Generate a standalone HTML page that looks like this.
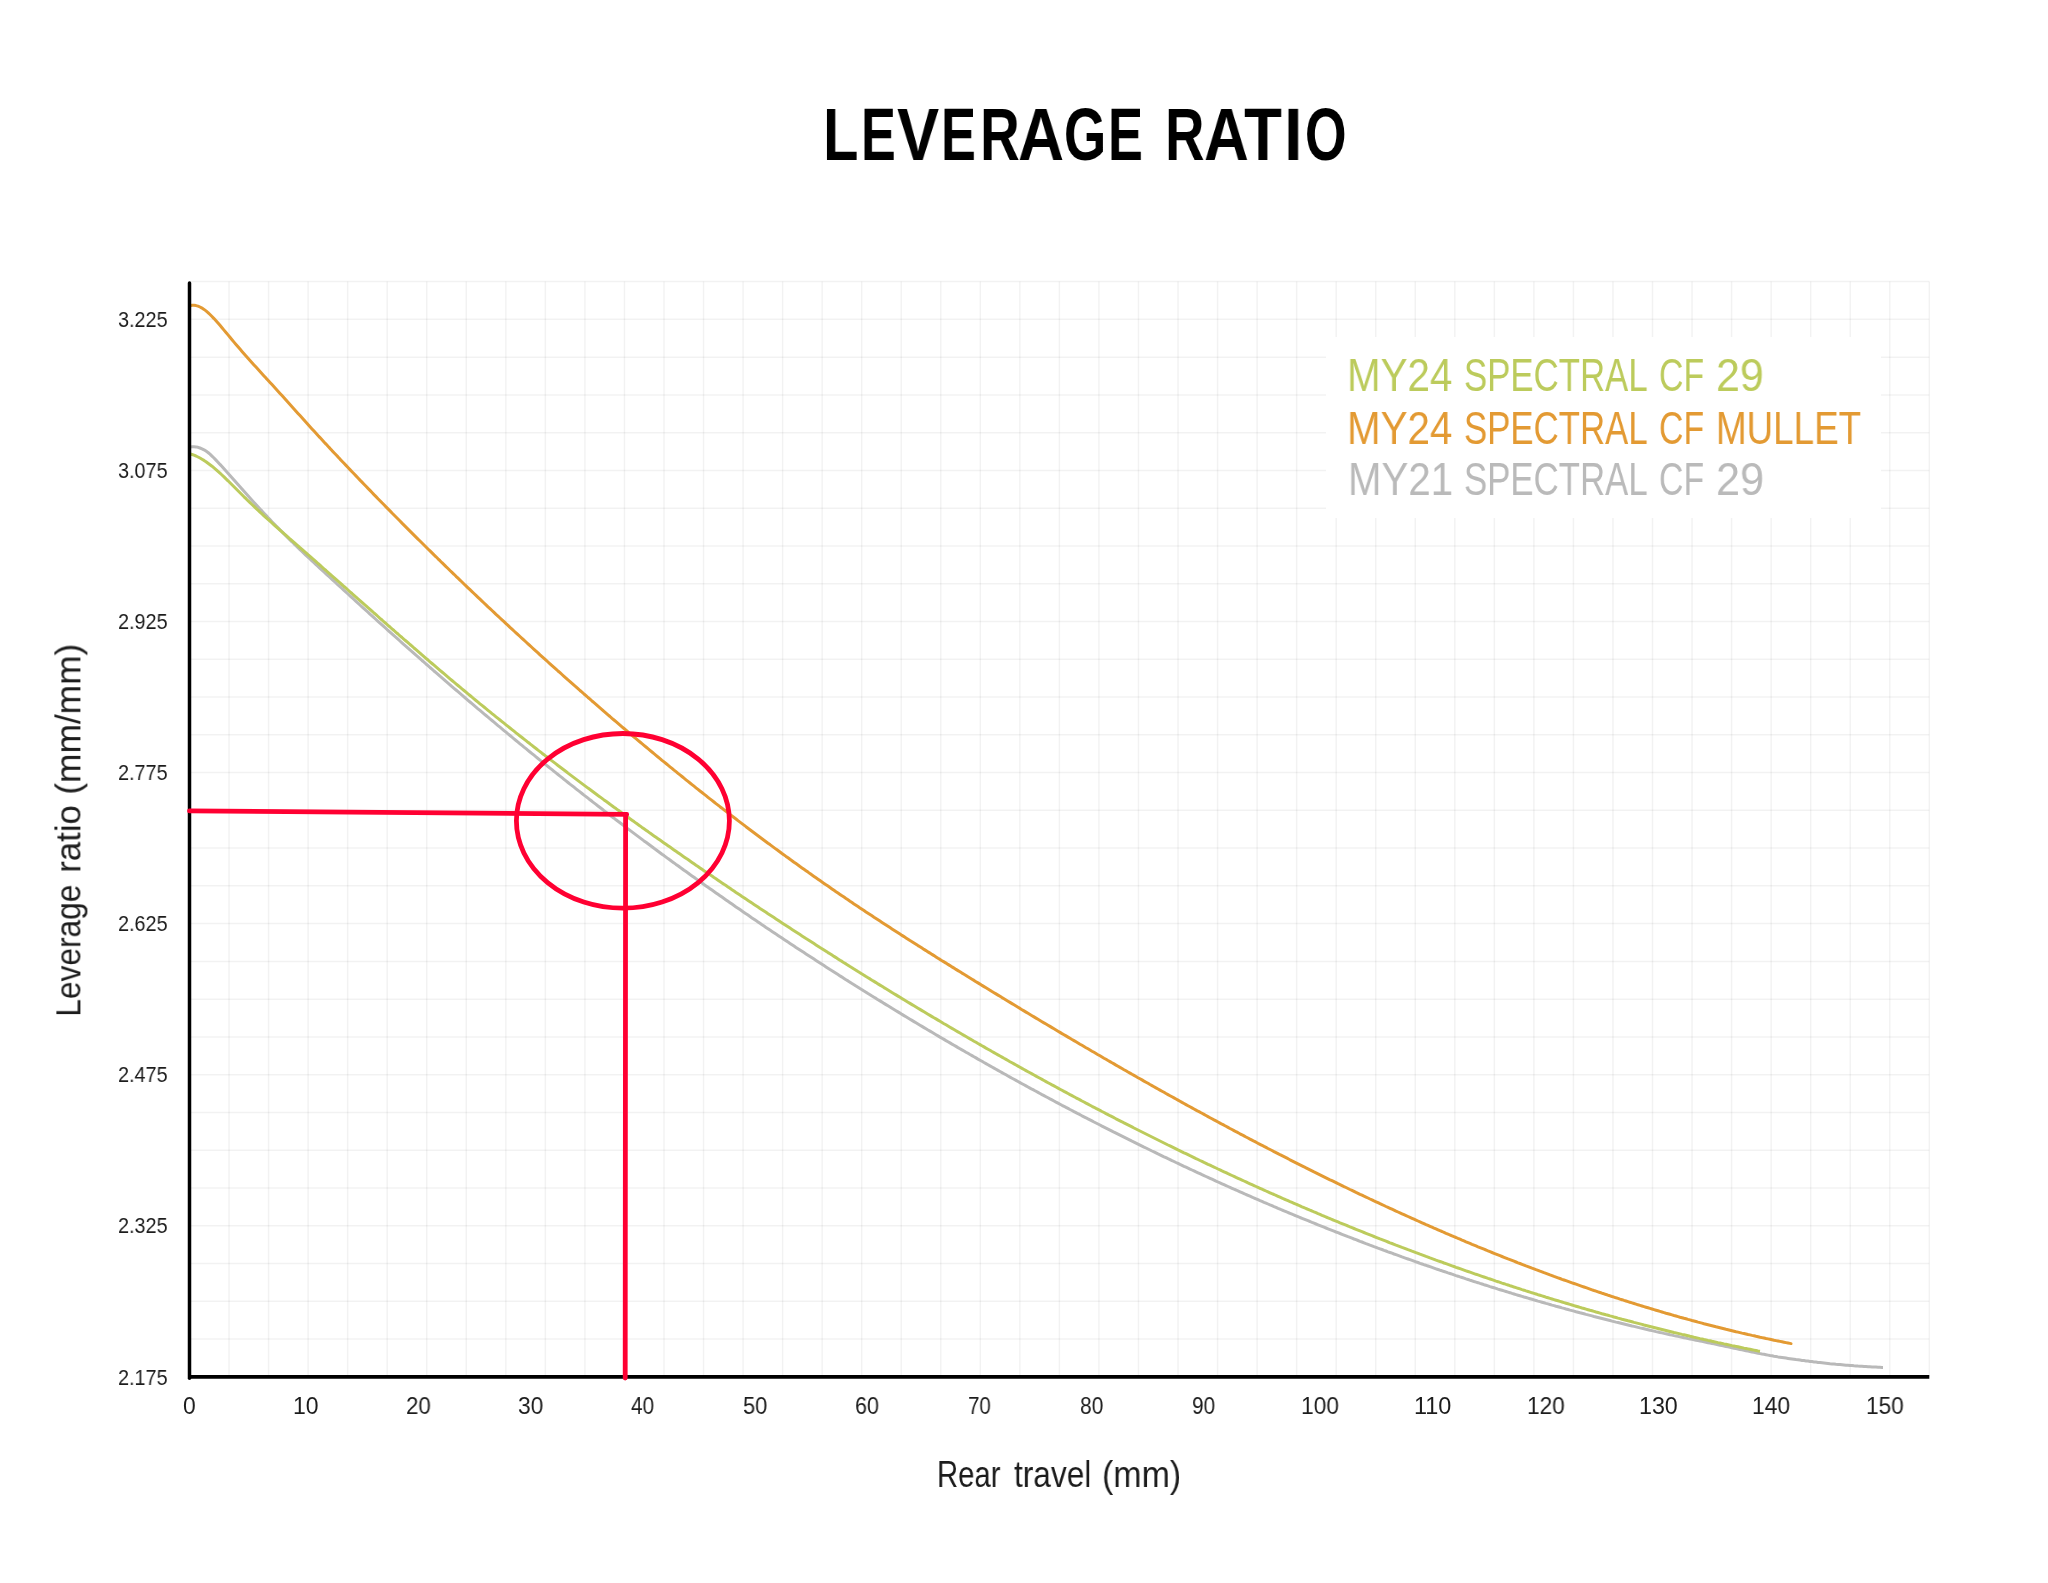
<!DOCTYPE html>
<html><head><meta charset="utf-8"><style>
html,body{margin:0;padding:0;background:#fff;width:2048px;height:1583px;overflow:hidden}
.t{position:absolute;white-space:nowrap;line-height:1;font-family:'Liberation Sans', sans-serif;will-change:transform}
</style></head><body>
<svg width="2048" height="1583" style="position:absolute;left:0;top:0">
<g stroke="#000" stroke-opacity="0.05" stroke-width="1.5" fill="none"><line x1="229.04" y1="281.60" x2="229.04" y2="1376.80"/><line x1="268.58" y1="281.60" x2="268.58" y2="1376.80"/><line x1="308.12" y1="281.60" x2="308.12" y2="1376.80"/><line x1="347.66" y1="281.60" x2="347.66" y2="1376.80"/><line x1="387.20" y1="281.60" x2="387.20" y2="1376.80"/><line x1="426.75" y1="281.60" x2="426.75" y2="1376.80"/><line x1="466.29" y1="281.60" x2="466.29" y2="1376.80"/><line x1="505.83" y1="281.60" x2="505.83" y2="1376.80"/><line x1="545.37" y1="281.60" x2="545.37" y2="1376.80"/><line x1="584.91" y1="281.60" x2="584.91" y2="1376.80"/><line x1="624.45" y1="281.60" x2="624.45" y2="1376.80"/><line x1="663.99" y1="281.60" x2="663.99" y2="1376.80"/><line x1="703.53" y1="281.60" x2="703.53" y2="1376.80"/><line x1="743.07" y1="281.60" x2="743.07" y2="1376.80"/><line x1="782.61" y1="281.60" x2="782.61" y2="1376.80"/><line x1="822.15" y1="281.60" x2="822.15" y2="1376.80"/><line x1="861.70" y1="281.60" x2="861.70" y2="1376.80"/><line x1="901.24" y1="281.60" x2="901.24" y2="1376.80"/><line x1="940.78" y1="281.60" x2="940.78" y2="1376.80"/><line x1="980.32" y1="281.60" x2="980.32" y2="1376.80"/><line x1="1019.86" y1="281.60" x2="1019.86" y2="1376.80"/><line x1="1059.40" y1="281.60" x2="1059.40" y2="1376.80"/><line x1="1098.94" y1="281.60" x2="1098.94" y2="1376.80"/><line x1="1138.48" y1="281.60" x2="1138.48" y2="1376.80"/><line x1="1178.02" y1="281.60" x2="1178.02" y2="1376.80"/><line x1="1217.56" y1="281.60" x2="1217.56" y2="1376.80"/><line x1="1257.10" y1="281.60" x2="1257.10" y2="1376.80"/><line x1="1296.65" y1="281.60" x2="1296.65" y2="1376.80"/><line x1="1336.19" y1="281.60" x2="1336.19" y2="1376.80"/><line x1="1375.73" y1="281.60" x2="1375.73" y2="1376.80"/><line x1="1415.27" y1="281.60" x2="1415.27" y2="1376.80"/><line x1="1454.81" y1="281.60" x2="1454.81" y2="1376.80"/><line x1="1494.35" y1="281.60" x2="1494.35" y2="1376.80"/><line x1="1533.89" y1="281.60" x2="1533.89" y2="1376.80"/><line x1="1573.43" y1="281.60" x2="1573.43" y2="1376.80"/><line x1="1612.97" y1="281.60" x2="1612.97" y2="1376.80"/><line x1="1652.51" y1="281.60" x2="1652.51" y2="1376.80"/><line x1="1692.05" y1="281.60" x2="1692.05" y2="1376.80"/><line x1="1731.60" y1="281.60" x2="1731.60" y2="1376.80"/><line x1="1771.14" y1="281.60" x2="1771.14" y2="1376.80"/><line x1="1810.68" y1="281.60" x2="1810.68" y2="1376.80"/><line x1="1850.22" y1="281.60" x2="1850.22" y2="1376.80"/><line x1="1889.76" y1="281.60" x2="1889.76" y2="1376.80"/><line x1="1929.30" y1="281.60" x2="1929.30" y2="1376.80"/><line x1="189.50" y1="281.60" x2="1929.30" y2="281.60"/><line x1="189.50" y1="319.37" x2="1929.30" y2="319.37"/><line x1="189.50" y1="357.13" x2="1929.30" y2="357.13"/><line x1="189.50" y1="394.90" x2="1929.30" y2="394.90"/><line x1="189.50" y1="432.66" x2="1929.30" y2="432.66"/><line x1="189.50" y1="470.43" x2="1929.30" y2="470.43"/><line x1="189.50" y1="508.19" x2="1929.30" y2="508.19"/><line x1="189.50" y1="545.96" x2="1929.30" y2="545.96"/><line x1="189.50" y1="583.72" x2="1929.30" y2="583.72"/><line x1="189.50" y1="621.49" x2="1929.30" y2="621.49"/><line x1="189.50" y1="659.26" x2="1929.30" y2="659.26"/><line x1="189.50" y1="697.02" x2="1929.30" y2="697.02"/><line x1="189.50" y1="734.79" x2="1929.30" y2="734.79"/><line x1="189.50" y1="772.55" x2="1929.30" y2="772.55"/><line x1="189.50" y1="810.32" x2="1929.30" y2="810.32"/><line x1="189.50" y1="848.08" x2="1929.30" y2="848.08"/><line x1="189.50" y1="885.85" x2="1929.30" y2="885.85"/><line x1="189.50" y1="923.61" x2="1929.30" y2="923.61"/><line x1="189.50" y1="961.38" x2="1929.30" y2="961.38"/><line x1="189.50" y1="999.14" x2="1929.30" y2="999.14"/><line x1="189.50" y1="1036.91" x2="1929.30" y2="1036.91"/><line x1="189.50" y1="1074.68" x2="1929.30" y2="1074.68"/><line x1="189.50" y1="1112.44" x2="1929.30" y2="1112.44"/><line x1="189.50" y1="1150.21" x2="1929.30" y2="1150.21"/><line x1="189.50" y1="1187.97" x2="1929.30" y2="1187.97"/><line x1="189.50" y1="1225.74" x2="1929.30" y2="1225.74"/><line x1="189.50" y1="1263.50" x2="1929.30" y2="1263.50"/><line x1="189.50" y1="1301.27" x2="1929.30" y2="1301.27"/><line x1="189.50" y1="1339.03" x2="1929.30" y2="1339.03"/></g>
</svg>
<div class="t" style="left:822.69px;top:98.30px;transform-origin:0 0;transform:scaleX(0.7816);font-size:74px;color:#000;font-weight:bold;">L</div><div class="t" style="left:860.68px;top:98.30px;transform-origin:0 0;transform:scaleX(0.7048);font-size:74px;color:#000;font-weight:bold;">E</div><div class="t" style="left:896.95px;top:98.30px;transform-origin:0 0;transform:scaleX(0.8521);font-size:74px;color:#000;font-weight:bold;">V</div><div class="t" style="left:941.06px;top:98.30px;transform-origin:0 0;transform:scaleX(0.7071);font-size:74px;color:#000;font-weight:bold;">E</div><div class="t" style="left:979.79px;top:98.30px;transform-origin:0 0;transform:scaleX(0.7426);font-size:74px;color:#000;font-weight:bold;">R</div><div class="t" style="left:1017.98px;top:98.30px;transform-origin:0 0;transform:scaleX(0.8612);font-size:74px;color:#000;font-weight:bold;">A</div><div class="t" style="left:1063.70px;top:98.30px;transform-origin:0 0;transform:scaleX(0.7320);font-size:74px;color:#000;font-weight:bold;">G</div><div class="t" style="left:1108.16px;top:98.30px;transform-origin:0 0;transform:scaleX(0.7071);font-size:74px;color:#000;font-weight:bold;">E</div><div class="t" style="left:1165.31px;top:98.30px;transform-origin:0 0;transform:scaleX(0.7383);font-size:74px;color:#000;font-weight:bold;">R</div><div class="t" style="left:1204.23px;top:98.30px;transform-origin:0 0;transform:scaleX(0.8367);font-size:74px;color:#000;font-weight:bold;">A</div><div class="t" style="left:1243.96px;top:98.30px;transform-origin:0 0;transform:scaleX(0.8364);font-size:74px;color:#000;font-weight:bold;">T</div><div class="t" style="left:1283.50px;top:98.30px;transform-origin:0 0;transform:scaleX(0.9000);font-size:74px;color:#000;font-weight:bold;">I</div><div class="t" style="left:1304.94px;top:98.30px;transform-origin:0 0;transform:scaleX(0.7212);font-size:74px;color:#000;font-weight:bold;">O</div><div class="t" style="left:118.20px;top:309.07px;transform-origin:0 0;transform:scaleX(0.9019);font-size:22px;color:#1c1c1c;font-weight:normal;">3.225</div><div class="t" style="left:118.20px;top:460.13px;transform-origin:0 0;transform:scaleX(0.9019);font-size:22px;color:#1c1c1c;font-weight:normal;">3.075</div><div class="t" style="left:118.20px;top:611.19px;transform-origin:0 0;transform:scaleX(0.9019);font-size:22px;color:#1c1c1c;font-weight:normal;">2.925</div><div class="t" style="left:118.20px;top:762.25px;transform-origin:0 0;transform:scaleX(0.9019);font-size:22px;color:#1c1c1c;font-weight:normal;">2.775</div><div class="t" style="left:118.20px;top:913.31px;transform-origin:0 0;transform:scaleX(0.9019);font-size:22px;color:#1c1c1c;font-weight:normal;">2.625</div><div class="t" style="left:118.20px;top:1064.38px;transform-origin:0 0;transform:scaleX(0.9019);font-size:22px;color:#1c1c1c;font-weight:normal;">2.475</div><div class="t" style="left:118.20px;top:1215.44px;transform-origin:0 0;transform:scaleX(0.9019);font-size:22px;color:#1c1c1c;font-weight:normal;">2.325</div><div class="t" style="left:118.20px;top:1366.50px;transform-origin:0 0;transform:scaleX(0.9019);font-size:22px;color:#1c1c1c;font-weight:normal;">2.175</div><div class="t" style="left:183.21px;top:1395.30px;transform-origin:0 0;transform:scaleX(0.9909);font-size:23px;color:#1c1c1c;font-weight:normal;">0</div><div class="t" style="left:293.00px;top:1395.30px;transform-origin:0 0;transform:scaleX(1.0000);font-size:23px;color:#1c1c1c;font-weight:normal;">10</div><div class="t" style="left:405.83px;top:1395.30px;transform-origin:0 0;transform:scaleX(0.9708);font-size:23px;color:#1c1c1c;font-weight:normal;">20</div><div class="t" style="left:517.91px;top:1395.30px;transform-origin:0 0;transform:scaleX(0.9917);font-size:23px;color:#1c1c1c;font-weight:normal;">30</div><div class="t" style="left:631.40px;top:1395.30px;transform-origin:0 0;transform:scaleX(0.9040);font-size:23px;color:#1c1c1c;font-weight:normal;">40</div><div class="t" style="left:742.85px;top:1395.30px;transform-origin:0 0;transform:scaleX(0.9500);font-size:23px;color:#1c1c1c;font-weight:normal;">50</div><div class="t" style="left:854.96px;top:1395.30px;transform-origin:0 0;transform:scaleX(0.9375);font-size:23px;color:#1c1c1c;font-weight:normal;">60</div><div class="t" style="left:968.11px;top:1395.30px;transform-origin:0 0;transform:scaleX(0.8917);font-size:23px;color:#1c1c1c;font-weight:normal;">70</div><div class="t" style="left:1079.58px;top:1395.30px;transform-origin:0 0;transform:scaleX(0.9167);font-size:23px;color:#1c1c1c;font-weight:normal;">80</div><div class="t" style="left:1192.20px;top:1395.30px;transform-origin:0 0;transform:scaleX(0.9042);font-size:23px;color:#1c1c1c;font-weight:normal;">90</div><div class="t" style="left:1301.12px;top:1395.30px;transform-origin:0 0;transform:scaleX(0.9914);font-size:23px;color:#1c1c1c;font-weight:normal;">100</div><div class="t" style="left:1413.96px;top:1395.30px;transform-origin:0 0;transform:scaleX(1.0206);font-size:23px;color:#1c1c1c;font-weight:normal;">110</div><div class="t" style="left:1526.53px;top:1395.30px;transform-origin:0 0;transform:scaleX(0.9857);font-size:23px;color:#1c1c1c;font-weight:normal;">120</div><div class="t" style="left:1639.38px;top:1395.30px;transform-origin:0 0;transform:scaleX(1.0114);font-size:23px;color:#1c1c1c;font-weight:normal;">130</div><div class="t" style="left:1752.31px;top:1395.30px;transform-origin:0 0;transform:scaleX(0.9943);font-size:23px;color:#1c1c1c;font-weight:normal;">140</div><div class="t" style="left:1865.53px;top:1395.30px;transform-origin:0 0;transform:scaleX(0.9857);font-size:23px;color:#1c1c1c;font-weight:normal;">150</div><div class="t" style="left:937.43px;top:1456.30px;transform-origin:0 0;transform:scaleX(0.7909);font-size:37px;color:#1c1c1c;font-weight:normal;">Rear</div><div class="t" style="left:1014.30px;top:1456.30px;transform-origin:0 0;transform:scaleX(0.8545);font-size:37px;color:#1c1c1c;font-weight:normal;">travel</div><div class="t" style="left:1102.07px;top:1456.30px;transform-origin:0 0;transform:scaleX(0.9171);font-size:37px;color:#1c1c1c;font-weight:normal;">(mm)</div><div style="position:absolute;left:0;top:0;transform-origin:0 0;transform:translate(80.4px,1013.7px) rotate(-90deg);"><div class="t" style="left:-2.68px;top:-29.00px;transform-origin:0 0;transform:scaleX(0.8924);font-size:35.5px;color:#1c1c1c;font-weight:normal;">Leverage</div><div class="t" style="left:141.14px;top:-29.00px;transform-origin:0 0;transform:scaleX(0.9788);font-size:35.5px;color:#1c1c1c;font-weight:normal;">ratio</div><div class="t" style="left:219.31px;top:-29.00px;transform-origin:0 0;transform:scaleX(0.9946);font-size:35.5px;color:#1c1c1c;font-weight:normal;">(mm/mm)</div></div>
<div style="position:absolute;left:1326px;top:336.5px;width:555px;height:181px;background:#fff"></div>
<svg width="2048" height="1583" style="position:absolute;left:0;top:0">
<path d="M190.0,447.0 L192.0,446.8 L194.0,446.8 L196.0,446.9 L198.0,447.3 L200.0,448.0 L202.0,448.8 L204.0,449.8 L206.0,451.1 L208.0,452.5 L210.0,454.2 L212.0,456.1 L214.0,458.0 L216.0,460.1 L218.0,462.2 L220.0,464.4 L222.0,466.5 L224.0,468.8 L226.0,471.0 L228.0,473.2 L230.0,475.5 L232.0,477.7 L234.0,480.0 L236.0,482.3 L238.0,484.6 L240.0,486.8 L242.0,489.1 L244.0,491.3 L246.0,493.5 L248.0,495.8 L250.0,498.0 L252.0,500.2 L254.0,502.4 L256.0,504.6 L258.0,506.7 L260.0,508.9 L262.0,511.1 L264.0,513.2 L266.0,515.3 L268.0,517.5 L270.0,519.6 L272.0,521.7 L274.0,523.7 L276.0,525.8 L278.0,527.8 L280.0,529.9 L282.0,531.9 L284.0,533.9 L286.0,535.9 L288.0,537.9 L290.0,539.9 L292.0,541.8 L294.0,543.8 L296.0,545.7 L298.0,547.7 L300.0,549.6 L302.0,551.5 L304.0,553.4 L306.0,555.3 L308.0,557.1 L310.0,559.0 L312.0,560.9 L314.0,562.7 L316.0,564.6 L318.0,566.4 L320.0,568.3 L322.0,570.1 L324.0,572.0 L326.0,573.8 L328.0,575.7 L330.0,577.5 L332.0,579.3 L334.0,581.2 L336.0,583.0 L338.0,584.9 L340.0,586.7 L342.0,588.5 L344.0,590.4 L346.0,592.2 L348.0,594.0 L350.0,595.8 L352.0,597.7 L354.0,599.5 L356.0,601.3 L358.0,603.1 L360.0,605.0 L362.0,606.8 L364.0,608.6 L366.0,610.4 L368.0,612.2 L370.0,614.1 L372.0,615.9 L374.0,617.7 L376.0,619.5 L378.0,621.3 L380.0,623.1 L382.0,624.9 L384.0,626.7 L386.0,628.5 L388.0,630.3 L390.0,632.1 L392.0,633.9 L394.0,635.7 L396.0,637.4 L398.0,639.2 L400.0,641.0 L402.0,642.8 L404.0,644.6 L406.0,646.3 L408.0,648.1 L410.0,649.9 L412.0,651.6 L414.0,653.4 L416.0,655.2 L418.0,656.9 L420.0,658.7 L422.0,660.5 L424.0,662.2 L426.0,664.0 L428.0,665.7 L430.0,667.5 L432.0,669.2 L434.0,671.0 L436.0,672.7 L438.0,674.4 L440.0,676.2 L442.0,677.9 L444.0,679.6 L446.0,681.4 L448.0,683.1 L450.0,684.8 L452.0,686.6 L454.0,688.3 L456.0,690.0 L458.0,691.7 L460.0,693.4 L462.0,695.1 L464.0,696.8 L466.0,698.6 L468.0,700.3 L470.0,702.0 L472.0,703.7 L474.0,705.4 L476.0,707.1 L478.0,708.8 L480.0,710.4 L482.0,712.1 L484.0,713.8 L486.0,715.5 L488.0,717.2 L490.0,718.9 L492.0,720.5 L494.0,722.2 L496.0,723.9 L498.0,725.6 L500.0,727.2 L502.0,728.9 L504.0,730.6 L506.0,732.2 L508.0,733.9 L510.0,735.5 L512.0,737.2 L514.0,738.8 L516.0,740.5 L518.0,742.1 L520.0,743.8 L522.0,745.4 L524.0,747.1 L526.0,748.7 L528.0,750.3 L530.0,752.0 L532.0,753.6 L534.0,755.2 L536.0,756.8 L538.0,758.5 L540.0,760.1 L542.0,761.7 L544.0,763.3 L546.0,764.9 L548.0,766.5 L550.0,768.1 L552.0,769.7 L554.0,771.3 L556.0,772.9 L558.0,774.5 L560.0,776.1 L562.0,777.7 L564.0,779.3 L566.0,780.9 L568.0,782.5 L570.0,784.1 L572.0,785.6 L574.0,787.2 L576.0,788.8 L578.0,790.4 L580.0,791.9 L582.0,793.5 L584.0,795.1 L586.0,796.6 L588.0,798.2 L590.0,799.8 L592.0,801.3 L594.0,802.9 L596.0,804.4 L598.0,806.0 L600.0,807.5 L602.0,809.0 L604.0,810.6 L606.0,812.1 L608.0,813.7 L610.0,815.2 L612.0,816.7 L614.0,818.2 L616.0,819.8 L618.0,821.3 L620.0,822.8 L622.0,824.3 L624.0,825.8 L626.0,827.4 L628.0,828.9 L630.0,830.4 L632.0,831.9 L634.0,833.4 L636.0,834.9 L638.0,836.4 L640.0,837.9 L642.0,839.4 L644.0,840.9 L646.0,842.3 L648.0,843.8 L650.0,845.3 L652.0,846.8 L654.0,848.3 L656.0,849.7 L658.0,851.2 L660.0,852.7 L662.0,854.2 L664.0,855.6 L666.0,857.1 L668.0,858.6 L670.0,860.0 L672.0,861.5 L674.0,862.9 L676.0,864.4 L678.0,865.8 L680.0,867.3 L682.0,868.7 L684.0,870.2 L686.0,871.6 L688.0,873.0 L690.0,874.5 L692.0,875.9 L694.0,877.3 L696.0,878.8 L698.0,880.2 L700.0,881.6 L702.0,883.0 L704.0,884.5 L706.0,885.9 L708.0,887.3 L710.0,888.7 L712.0,890.1 L714.0,891.5 L716.0,892.9 L718.0,894.3 L720.0,895.7 L722.0,897.1 L724.0,898.5 L726.0,899.9 L728.0,901.3 L730.0,902.7 L732.0,904.1 L734.0,905.5 L736.0,906.9 L738.0,908.2 L740.0,909.6 L742.0,911.0 L744.0,912.4 L746.0,913.8 L748.0,915.1 L750.0,916.5 L752.0,917.9 L754.0,919.2 L756.0,920.6 L758.0,921.9 L760.0,923.3 L762.0,924.7 L764.0,926.0 L766.0,927.4 L768.0,928.7 L770.0,930.1 L772.0,931.4 L774.0,932.7 L776.0,934.1 L778.0,935.4 L780.0,936.8 L782.0,938.1 L784.0,939.4 L786.0,940.7 L788.0,942.1 L790.0,943.4 L792.0,944.7 L794.0,946.0 L796.0,947.4 L798.0,948.7 L800.0,950.0 L802.0,951.3 L804.0,952.6 L806.0,953.9 L808.0,955.2 L810.0,956.5 L812.0,957.8 L814.0,959.1 L816.0,960.4 L818.0,961.7 L820.0,963.0 L822.0,964.3 L824.0,965.6 L826.0,966.9 L828.0,968.2 L830.0,969.5 L832.0,970.7 L834.0,972.0 L836.0,973.3 L838.0,974.6 L840.0,975.9 L842.0,977.1 L844.0,978.4 L846.0,979.7 L848.0,980.9 L850.0,982.2 L852.0,983.5 L854.0,984.7 L856.0,986.0 L858.0,987.2 L860.0,988.5 L862.0,989.7 L864.0,991.0 L866.0,992.2 L868.0,993.5 L870.0,994.7 L872.0,996.0 L874.0,997.2 L876.0,998.4 L878.0,999.7 L880.0,1000.9 L882.0,1002.1 L884.0,1003.4 L886.0,1004.6 L888.0,1005.8 L890.0,1007.0 L892.0,1008.3 L894.0,1009.5 L896.0,1010.7 L898.0,1011.9 L900.0,1013.1 L902.0,1014.4 L904.0,1015.6 L906.0,1016.8 L908.0,1018.0 L910.0,1019.2 L912.0,1020.4 L914.0,1021.6 L916.0,1022.8 L918.0,1024.0 L920.0,1025.2 L922.0,1026.4 L924.0,1027.6 L926.0,1028.8 L928.0,1030.0 L930.0,1031.1 L932.0,1032.3 L934.0,1033.5 L936.0,1034.7 L938.0,1035.9 L940.0,1037.1 L942.0,1038.2 L944.0,1039.4 L946.0,1040.6 L948.0,1041.7 L950.0,1042.9 L952.0,1044.1 L954.0,1045.2 L956.0,1046.4 L958.0,1047.6 L960.0,1048.7 L962.0,1049.9 L964.0,1051.0 L966.0,1052.2 L968.0,1053.3 L970.0,1054.5 L972.0,1055.6 L974.0,1056.8 L976.0,1057.9 L978.0,1059.1 L980.0,1060.2 L982.0,1061.3 L984.0,1062.5 L986.0,1063.6 L988.0,1064.7 L990.0,1065.9 L992.0,1067.0 L994.0,1068.1 L996.0,1069.2 L998.0,1070.4 L1000.0,1071.5 L1002.0,1072.6 L1004.0,1073.7 L1006.0,1074.8 L1008.0,1076.0 L1010.0,1077.1 L1012.0,1078.2 L1014.0,1079.3 L1016.0,1080.4 L1018.0,1081.5 L1020.0,1082.6 L1022.0,1083.7 L1024.0,1084.8 L1026.0,1085.9 L1028.0,1087.0 L1030.0,1088.1 L1032.0,1089.2 L1034.0,1090.2 L1036.0,1091.3 L1038.0,1092.4 L1040.0,1093.5 L1042.0,1094.6 L1044.0,1095.6 L1046.0,1096.7 L1048.0,1097.8 L1050.0,1098.9 L1052.0,1099.9 L1054.0,1101.0 L1056.0,1102.1 L1058.0,1103.1 L1060.0,1104.2 L1062.0,1105.3 L1064.0,1106.3 L1066.0,1107.4 L1068.0,1108.4 L1070.0,1109.5 L1072.0,1110.5 L1074.0,1111.6 L1076.0,1112.6 L1078.0,1113.7 L1080.0,1114.7 L1082.0,1115.8 L1084.0,1116.8 L1086.0,1117.8 L1088.0,1118.9 L1090.0,1119.9 L1092.0,1120.9 L1094.0,1122.0 L1096.0,1123.0 L1098.0,1124.0 L1100.0,1125.0 L1102.0,1126.1 L1104.0,1127.1 L1106.0,1128.1 L1108.0,1129.1 L1110.0,1130.1 L1112.0,1131.1 L1114.0,1132.2 L1116.0,1133.2 L1118.0,1134.2 L1120.0,1135.2 L1122.0,1136.2 L1124.0,1137.2 L1126.0,1138.2 L1128.0,1139.2 L1130.0,1140.2 L1132.0,1141.2 L1134.0,1142.1 L1136.0,1143.1 L1138.0,1144.1 L1140.0,1145.1 L1142.0,1146.1 L1144.0,1147.1 L1146.0,1148.0 L1148.0,1149.0 L1150.0,1150.0 L1152.0,1151.0 L1154.0,1151.9 L1156.0,1152.9 L1158.0,1153.9 L1160.0,1154.8 L1162.0,1155.8 L1164.0,1156.8 L1166.0,1157.7 L1168.0,1158.7 L1170.0,1159.6 L1172.0,1160.6 L1174.0,1161.5 L1176.0,1162.5 L1178.0,1163.4 L1180.0,1164.4 L1182.0,1165.3 L1184.0,1166.3 L1186.0,1167.2 L1188.0,1168.1 L1190.0,1169.1 L1192.0,1170.0 L1194.0,1170.9 L1196.0,1171.9 L1198.0,1172.8 L1200.0,1173.7 L1202.0,1174.7 L1204.0,1175.6 L1206.0,1176.5 L1208.0,1177.4 L1210.0,1178.3 L1212.0,1179.2 L1214.0,1180.1 L1216.0,1181.1 L1218.0,1182.0 L1220.0,1182.9 L1222.0,1183.8 L1224.0,1184.7 L1226.0,1185.6 L1228.0,1186.5 L1230.0,1187.4 L1232.0,1188.3 L1234.0,1189.2 L1236.0,1190.0 L1238.0,1190.9 L1240.0,1191.8 L1242.0,1192.7 L1244.0,1193.6 L1246.0,1194.5 L1248.0,1195.3 L1250.0,1196.2 L1252.0,1197.1 L1254.0,1198.0 L1256.0,1198.8 L1258.0,1199.7 L1260.0,1200.6 L1262.0,1201.4 L1264.0,1202.3 L1266.0,1203.1 L1268.0,1204.0 L1270.0,1204.9 L1272.0,1205.7 L1274.0,1206.6 L1276.0,1207.4 L1278.0,1208.3 L1280.0,1209.1 L1282.0,1210.0 L1284.0,1210.8 L1286.0,1211.6 L1288.0,1212.5 L1290.0,1213.3 L1292.0,1214.1 L1294.0,1215.0 L1296.0,1215.8 L1298.0,1216.6 L1300.0,1217.5 L1302.0,1218.3 L1304.0,1219.1 L1306.0,1219.9 L1308.0,1220.7 L1310.0,1221.5 L1312.0,1222.4 L1314.0,1223.2 L1316.0,1224.0 L1318.0,1224.8 L1320.0,1225.6 L1322.0,1226.4 L1324.0,1227.2 L1326.0,1228.0 L1328.0,1228.8 L1330.0,1229.6 L1332.0,1230.4 L1334.0,1231.2 L1336.0,1232.0 L1338.0,1232.7 L1340.0,1233.5 L1342.0,1234.3 L1344.0,1235.1 L1346.0,1235.9 L1348.0,1236.7 L1350.0,1237.4 L1352.0,1238.2 L1354.0,1239.0 L1356.0,1239.7 L1358.0,1240.5 L1360.0,1241.3 L1362.0,1242.0 L1364.0,1242.8 L1366.0,1243.6 L1368.0,1244.3 L1370.0,1245.1 L1372.0,1245.8 L1374.0,1246.6 L1376.0,1247.3 L1378.0,1248.1 L1380.0,1248.8 L1382.0,1249.5 L1384.0,1250.3 L1386.0,1251.0 L1388.0,1251.8 L1390.0,1252.5 L1392.0,1253.2 L1394.0,1254.0 L1396.0,1254.7 L1398.0,1255.4 L1400.0,1256.1 L1402.0,1256.9 L1404.0,1257.6 L1406.0,1258.3 L1408.0,1259.0 L1410.0,1259.7 L1412.0,1260.4 L1414.0,1261.1 L1416.0,1261.8 L1418.0,1262.5 L1420.0,1263.3 L1422.0,1264.0 L1424.0,1264.7 L1426.0,1265.3 L1428.0,1266.0 L1430.0,1266.7 L1432.0,1267.4 L1434.0,1268.1 L1436.0,1268.8 L1438.0,1269.5 L1440.0,1270.2 L1442.0,1270.8 L1444.0,1271.5 L1446.0,1272.2 L1448.0,1272.9 L1450.0,1273.5 L1452.0,1274.2 L1454.0,1274.9 L1456.0,1275.6 L1458.0,1276.2 L1460.0,1276.9 L1462.0,1277.5 L1464.0,1278.2 L1466.0,1278.9 L1468.0,1279.5 L1470.0,1280.2 L1472.0,1280.8 L1474.0,1281.5 L1476.0,1282.1 L1478.0,1282.7 L1480.0,1283.4 L1482.0,1284.0 L1484.0,1284.7 L1486.0,1285.3 L1488.0,1285.9 L1490.0,1286.6 L1492.0,1287.2 L1494.0,1287.8 L1496.0,1288.4 L1498.0,1289.1 L1500.0,1289.7 L1502.0,1290.3 L1504.0,1290.9 L1506.0,1291.5 L1508.0,1292.1 L1510.0,1292.7 L1512.0,1293.4 L1514.0,1294.0 L1516.0,1294.6 L1518.0,1295.2 L1520.0,1295.8 L1522.0,1296.4 L1524.0,1297.0 L1526.0,1297.5 L1528.0,1298.1 L1530.0,1298.7 L1532.0,1299.3 L1534.0,1299.9 L1536.0,1300.5 L1538.0,1301.1 L1540.0,1301.6 L1542.0,1302.2 L1544.0,1302.8 L1546.0,1303.4 L1548.0,1303.9 L1550.0,1304.5 L1552.0,1305.1 L1554.0,1305.6 L1556.0,1306.2 L1558.0,1306.7 L1560.0,1307.3 L1562.0,1307.9 L1564.0,1308.4 L1566.0,1309.0 L1568.0,1309.5 L1570.0,1310.1 L1572.0,1310.6 L1574.0,1311.1 L1576.0,1311.7 L1578.0,1312.2 L1580.0,1312.8 L1582.0,1313.3 L1584.0,1313.8 L1586.0,1314.4 L1588.0,1314.9 L1590.0,1315.4 L1592.0,1315.9 L1594.0,1316.5 L1596.0,1317.0 L1598.0,1317.5 L1600.0,1318.0 L1602.0,1318.5 L1604.0,1319.0 L1606.0,1319.5 L1608.0,1320.0 L1610.0,1320.5 L1612.0,1321.1 L1614.0,1321.6 L1616.0,1322.1 L1618.0,1322.5 L1620.0,1323.0 L1622.0,1323.5 L1624.0,1324.0 L1626.0,1324.5 L1628.0,1325.0 L1630.0,1325.5 L1632.0,1326.0 L1634.0,1326.4 L1636.0,1326.9 L1638.0,1327.4 L1640.0,1327.9 L1642.0,1328.3 L1644.0,1328.8 L1646.0,1329.3 L1648.0,1329.7 L1650.0,1330.2 L1652.0,1330.6 L1654.0,1331.1 L1656.0,1331.6 L1658.0,1332.0 L1660.0,1332.5 L1662.0,1332.9 L1664.0,1333.4 L1666.0,1333.8 L1668.0,1334.2 L1670.0,1334.7 L1672.0,1335.1 L1674.0,1335.6 L1676.0,1336.0 L1678.0,1336.4 L1680.0,1336.9 L1682.0,1337.3 L1684.0,1337.7 L1686.0,1338.1 L1688.0,1338.6 L1690.0,1339.0 L1692.0,1339.4 L1694.0,1339.8 L1696.0,1340.2 L1698.0,1340.6 L1700.0,1341.0 L1702.0,1341.4 L1704.0,1341.9 L1706.0,1342.3 L1708.0,1342.7 L1710.0,1343.1 L1712.0,1343.5 L1714.0,1343.9 L1716.0,1344.4 L1718.0,1344.8 L1720.0,1345.2 L1722.0,1345.6 L1724.0,1346.0 L1726.0,1346.5 L1728.0,1346.9 L1730.0,1347.3 L1732.0,1347.7 L1734.0,1348.2 L1736.0,1348.6 L1738.0,1349.0 L1740.0,1349.5 L1742.0,1349.9 L1744.0,1350.3 L1746.0,1350.7 L1748.0,1351.1 L1750.0,1351.5 L1752.0,1352.0 L1754.0,1352.4 L1756.0,1352.8 L1758.0,1353.2 L1760.0,1353.6 L1762.0,1354.0 L1764.0,1354.3 L1766.0,1354.7 L1768.0,1355.1 L1770.0,1355.5 L1772.0,1355.8 L1774.0,1356.2 L1776.0,1356.5 L1778.0,1356.9 L1780.0,1357.2 L1782.0,1357.5 L1784.0,1357.8 L1786.0,1358.1 L1788.0,1358.4 L1790.0,1358.7 L1792.0,1359.0 L1794.0,1359.3 L1796.0,1359.6 L1798.0,1359.8 L1800.0,1360.1 L1802.0,1360.4 L1804.0,1360.6 L1806.0,1360.9 L1808.0,1361.1 L1810.0,1361.4 L1812.0,1361.6 L1814.0,1361.9 L1816.0,1362.1 L1818.0,1362.4 L1820.0,1362.6 L1822.0,1362.8 L1824.0,1363.0 L1826.0,1363.2 L1828.0,1363.4 L1830.0,1363.7 L1832.0,1363.9 L1834.0,1364.1 L1836.0,1364.3 L1838.0,1364.4 L1840.0,1364.6 L1842.0,1364.8 L1844.0,1365.0 L1846.0,1365.2 L1848.0,1365.3 L1850.0,1365.5 L1852.0,1365.6 L1854.0,1365.8 L1856.0,1365.9 L1858.0,1366.1 L1860.0,1366.2 L1862.0,1366.3 L1864.0,1366.5 L1866.0,1366.6 L1868.0,1366.7 L1870.0,1366.8 L1872.0,1366.9 L1874.0,1367.0 L1876.0,1367.1 L1878.0,1367.2 L1880.0,1367.3 L1882.0,1367.4 L1883.0,1367.4" stroke="#b9b9b9" stroke-width="3.0" fill="none" stroke-linecap="butt" stroke-linejoin="round"/><path d="M190.0,454.0 L192.0,454.5 L194.0,455.2 L196.0,456.0 L198.0,457.0 L200.0,458.0 L202.0,459.2 L204.0,460.4 L206.0,461.7 L208.0,463.2 L210.0,464.7 L212.0,466.2 L214.0,467.9 L216.0,469.6 L218.0,471.4 L220.0,473.2 L222.0,475.0 L224.0,476.9 L226.0,478.9 L228.0,480.8 L230.0,482.8 L232.0,484.8 L234.0,486.8 L236.0,488.8 L238.0,490.8 L240.0,492.8 L242.0,494.8 L244.0,496.8 L246.0,498.7 L248.0,500.7 L250.0,502.6 L252.0,504.5 L254.0,506.4 L256.0,508.3 L258.0,510.2 L260.0,512.1 L262.0,513.9 L264.0,515.8 L266.0,517.6 L268.0,519.4 L270.0,521.2 L272.0,523.0 L274.0,524.8 L276.0,526.6 L278.0,528.4 L280.0,530.2 L282.0,531.9 L284.0,533.7 L286.0,535.4 L288.0,537.2 L290.0,539.0 L292.0,540.7 L294.0,542.4 L296.0,544.2 L298.0,545.9 L300.0,547.7 L302.0,549.4 L304.0,551.2 L306.0,552.9 L308.0,554.7 L310.0,556.4 L312.0,558.2 L314.0,559.9 L316.0,561.7 L318.0,563.5 L320.0,565.2 L322.0,567.0 L324.0,568.8 L326.0,570.5 L328.0,572.3 L330.0,574.1 L332.0,575.9 L334.0,577.6 L336.0,579.4 L338.0,581.2 L340.0,582.9 L342.0,584.7 L344.0,586.5 L346.0,588.2 L348.0,590.0 L350.0,591.8 L352.0,593.5 L354.0,595.3 L356.0,597.1 L358.0,598.9 L360.0,600.6 L362.0,602.4 L364.0,604.2 L366.0,605.9 L368.0,607.7 L370.0,609.4 L372.0,611.2 L374.0,613.0 L376.0,614.7 L378.0,616.5 L380.0,618.3 L382.0,620.0 L384.0,621.8 L386.0,623.5 L388.0,625.3 L390.0,627.0 L392.0,628.8 L394.0,630.5 L396.0,632.3 L398.0,634.0 L400.0,635.8 L402.0,637.5 L404.0,639.3 L406.0,641.0 L408.0,642.7 L410.0,644.5 L412.0,646.2 L414.0,648.0 L416.0,649.7 L418.0,651.4 L420.0,653.1 L422.0,654.9 L424.0,656.6 L426.0,658.3 L428.0,660.0 L430.0,661.8 L432.0,663.5 L434.0,665.2 L436.0,666.9 L438.0,668.6 L440.0,670.3 L442.0,672.0 L444.0,673.7 L446.0,675.4 L448.0,677.1 L450.0,678.8 L452.0,680.5 L454.0,682.2 L456.0,683.8 L458.0,685.5 L460.0,687.2 L462.0,688.9 L464.0,690.5 L466.0,692.2 L468.0,693.9 L470.0,695.5 L472.0,697.2 L474.0,698.8 L476.0,700.5 L478.0,702.1 L480.0,703.8 L482.0,705.4 L484.0,707.0 L486.0,708.7 L488.0,710.3 L490.0,711.9 L492.0,713.6 L494.0,715.2 L496.0,716.8 L498.0,718.4 L500.0,720.0 L502.0,721.6 L504.0,723.2 L506.0,724.8 L508.0,726.4 L510.0,728.0 L512.0,729.6 L514.0,731.2 L516.0,732.8 L518.0,734.4 L520.0,736.0 L522.0,737.5 L524.0,739.1 L526.0,740.7 L528.0,742.3 L530.0,743.8 L532.0,745.4 L534.0,747.0 L536.0,748.5 L538.0,750.1 L540.0,751.6 L542.0,753.2 L544.0,754.7 L546.0,756.3 L548.0,757.8 L550.0,759.3 L552.0,760.9 L554.0,762.4 L556.0,763.9 L558.0,765.5 L560.0,767.0 L562.0,768.5 L564.0,770.0 L566.0,771.5 L568.0,773.1 L570.0,774.6 L572.0,776.1 L574.0,777.6 L576.0,779.1 L578.0,780.6 L580.0,782.1 L582.0,783.6 L584.0,785.1 L586.0,786.6 L588.0,788.1 L590.0,789.5 L592.0,791.0 L594.0,792.5 L596.0,794.0 L598.0,795.5 L600.0,796.9 L602.0,798.4 L604.0,799.9 L606.0,801.3 L608.0,802.8 L610.0,804.3 L612.0,805.7 L614.0,807.2 L616.0,808.6 L618.0,810.1 L620.0,811.5 L622.0,813.0 L624.0,814.4 L626.0,815.9 L628.0,817.3 L630.0,818.8 L632.0,820.2 L634.0,821.6 L636.0,823.1 L638.0,824.5 L640.0,825.9 L642.0,827.4 L644.0,828.8 L646.0,830.2 L648.0,831.6 L650.0,833.1 L652.0,834.5 L654.0,835.9 L656.0,837.3 L658.0,838.7 L660.0,840.1 L662.0,841.5 L664.0,842.9 L666.0,844.3 L668.0,845.7 L670.0,847.1 L672.0,848.5 L674.0,849.9 L676.0,851.3 L678.0,852.7 L680.0,854.1 L682.0,855.5 L684.0,856.9 L686.0,858.3 L688.0,859.6 L690.0,861.0 L692.0,862.4 L694.0,863.8 L696.0,865.2 L698.0,866.5 L700.0,867.9 L702.0,869.3 L704.0,870.7 L706.0,872.0 L708.0,873.4 L710.0,874.8 L712.0,876.1 L714.0,877.5 L716.0,878.8 L718.0,880.2 L720.0,881.6 L722.0,882.9 L724.0,884.3 L726.0,885.6 L728.0,887.0 L730.0,888.3 L732.0,889.7 L734.0,891.0 L736.0,892.4 L738.0,893.7 L740.0,895.0 L742.0,896.4 L744.0,897.7 L746.0,899.1 L748.0,900.4 L750.0,901.7 L752.0,903.1 L754.0,904.4 L756.0,905.7 L758.0,907.0 L760.0,908.4 L762.0,909.7 L764.0,911.0 L766.0,912.3 L768.0,913.7 L770.0,915.0 L772.0,916.3 L774.0,917.6 L776.0,918.9 L778.0,920.2 L780.0,921.6 L782.0,922.9 L784.0,924.2 L786.0,925.5 L788.0,926.8 L790.0,928.1 L792.0,929.4 L794.0,930.7 L796.0,932.0 L798.0,933.3 L800.0,934.6 L802.0,935.9 L804.0,937.2 L806.0,938.5 L808.0,939.7 L810.0,941.0 L812.0,942.3 L814.0,943.6 L816.0,944.9 L818.0,946.2 L820.0,947.5 L822.0,948.7 L824.0,950.0 L826.0,951.3 L828.0,952.6 L830.0,953.8 L832.0,955.1 L834.0,956.4 L836.0,957.6 L838.0,958.9 L840.0,960.2 L842.0,961.4 L844.0,962.7 L846.0,963.9 L848.0,965.2 L850.0,966.5 L852.0,967.7 L854.0,969.0 L856.0,970.2 L858.0,971.5 L860.0,972.7 L862.0,974.0 L864.0,975.2 L866.0,976.5 L868.0,977.7 L870.0,978.9 L872.0,980.2 L874.0,981.4 L876.0,982.6 L878.0,983.9 L880.0,985.1 L882.0,986.3 L884.0,987.6 L886.0,988.8 L888.0,990.0 L890.0,991.2 L892.0,992.5 L894.0,993.7 L896.0,994.9 L898.0,996.1 L900.0,997.3 L902.0,998.6 L904.0,999.8 L906.0,1001.0 L908.0,1002.2 L910.0,1003.4 L912.0,1004.6 L914.0,1005.8 L916.0,1007.0 L918.0,1008.2 L920.0,1009.4 L922.0,1010.6 L924.0,1011.8 L926.0,1013.0 L928.0,1014.2 L930.0,1015.4 L932.0,1016.6 L934.0,1017.8 L936.0,1018.9 L938.0,1020.1 L940.0,1021.3 L942.0,1022.5 L944.0,1023.7 L946.0,1024.8 L948.0,1026.0 L950.0,1027.2 L952.0,1028.4 L954.0,1029.5 L956.0,1030.7 L958.0,1031.9 L960.0,1033.0 L962.0,1034.2 L964.0,1035.4 L966.0,1036.5 L968.0,1037.7 L970.0,1038.9 L972.0,1040.0 L974.0,1041.2 L976.0,1042.3 L978.0,1043.5 L980.0,1044.6 L982.0,1045.8 L984.0,1046.9 L986.0,1048.1 L988.0,1049.2 L990.0,1050.3 L992.0,1051.5 L994.0,1052.6 L996.0,1053.7 L998.0,1054.9 L1000.0,1056.0 L1002.0,1057.1 L1004.0,1058.3 L1006.0,1059.4 L1008.0,1060.5 L1010.0,1061.7 L1012.0,1062.8 L1014.0,1063.9 L1016.0,1065.0 L1018.0,1066.1 L1020.0,1067.2 L1022.0,1068.4 L1024.0,1069.5 L1026.0,1070.6 L1028.0,1071.7 L1030.0,1072.8 L1032.0,1073.9 L1034.0,1075.0 L1036.0,1076.1 L1038.0,1077.2 L1040.0,1078.3 L1042.0,1079.4 L1044.0,1080.5 L1046.0,1081.6 L1048.0,1082.7 L1050.0,1083.8 L1052.0,1084.9 L1054.0,1085.9 L1056.0,1087.0 L1058.0,1088.1 L1060.0,1089.2 L1062.0,1090.3 L1064.0,1091.4 L1066.0,1092.4 L1068.0,1093.5 L1070.0,1094.6 L1072.0,1095.6 L1074.0,1096.7 L1076.0,1097.8 L1078.0,1098.8 L1080.0,1099.9 L1082.0,1101.0 L1084.0,1102.0 L1086.0,1103.1 L1088.0,1104.1 L1090.0,1105.2 L1092.0,1106.3 L1094.0,1107.3 L1096.0,1108.4 L1098.0,1109.4 L1100.0,1110.4 L1102.0,1111.5 L1104.0,1112.5 L1106.0,1113.6 L1108.0,1114.6 L1110.0,1115.7 L1112.0,1116.7 L1114.0,1117.7 L1116.0,1118.8 L1118.0,1119.8 L1120.0,1120.8 L1122.0,1121.8 L1124.0,1122.9 L1126.0,1123.9 L1128.0,1124.9 L1130.0,1125.9 L1132.0,1126.9 L1134.0,1128.0 L1136.0,1129.0 L1138.0,1130.0 L1140.0,1131.0 L1142.0,1132.0 L1144.0,1133.0 L1146.0,1134.0 L1148.0,1135.0 L1150.0,1136.0 L1152.0,1137.0 L1154.0,1138.0 L1156.0,1139.0 L1158.0,1140.0 L1160.0,1141.0 L1162.0,1142.0 L1164.0,1143.0 L1166.0,1144.0 L1168.0,1145.0 L1170.0,1145.9 L1172.0,1146.9 L1174.0,1147.9 L1176.0,1148.9 L1178.0,1149.9 L1180.0,1150.8 L1182.0,1151.8 L1184.0,1152.8 L1186.0,1153.7 L1188.0,1154.7 L1190.0,1155.7 L1192.0,1156.6 L1194.0,1157.6 L1196.0,1158.6 L1198.0,1159.5 L1200.0,1160.5 L1202.0,1161.4 L1204.0,1162.4 L1206.0,1163.3 L1208.0,1164.3 L1210.0,1165.2 L1212.0,1166.2 L1214.0,1167.1 L1216.0,1168.0 L1218.0,1169.0 L1220.0,1169.9 L1222.0,1170.9 L1224.0,1171.8 L1226.0,1172.7 L1228.0,1173.7 L1230.0,1174.6 L1232.0,1175.5 L1234.0,1176.4 L1236.0,1177.4 L1238.0,1178.3 L1240.0,1179.2 L1242.0,1180.1 L1244.0,1181.0 L1246.0,1181.9 L1248.0,1182.9 L1250.0,1183.8 L1252.0,1184.7 L1254.0,1185.6 L1256.0,1186.5 L1258.0,1187.4 L1260.0,1188.3 L1262.0,1189.2 L1264.0,1190.1 L1266.0,1191.0 L1268.0,1191.9 L1270.0,1192.8 L1272.0,1193.7 L1274.0,1194.5 L1276.0,1195.4 L1278.0,1196.3 L1280.0,1197.2 L1282.0,1198.1 L1284.0,1199.0 L1286.0,1199.8 L1288.0,1200.7 L1290.0,1201.6 L1292.0,1202.4 L1294.0,1203.3 L1296.0,1204.2 L1298.0,1205.0 L1300.0,1205.9 L1302.0,1206.8 L1304.0,1207.6 L1306.0,1208.5 L1308.0,1209.3 L1310.0,1210.2 L1312.0,1211.0 L1314.0,1211.9 L1316.0,1212.7 L1318.0,1213.6 L1320.0,1214.4 L1322.0,1215.3 L1324.0,1216.1 L1326.0,1217.0 L1328.0,1217.8 L1330.0,1218.6 L1332.0,1219.5 L1334.0,1220.3 L1336.0,1221.1 L1338.0,1221.9 L1340.0,1222.8 L1342.0,1223.6 L1344.0,1224.4 L1346.0,1225.2 L1348.0,1226.0 L1350.0,1226.9 L1352.0,1227.7 L1354.0,1228.5 L1356.0,1229.3 L1358.0,1230.1 L1360.0,1230.9 L1362.0,1231.7 L1364.0,1232.5 L1366.0,1233.3 L1368.0,1234.1 L1370.0,1234.9 L1372.0,1235.7 L1374.0,1236.5 L1376.0,1237.3 L1378.0,1238.1 L1380.0,1238.9 L1382.0,1239.6 L1384.0,1240.4 L1386.0,1241.2 L1388.0,1242.0 L1390.0,1242.8 L1392.0,1243.5 L1394.0,1244.3 L1396.0,1245.1 L1398.0,1245.8 L1400.0,1246.6 L1402.0,1247.4 L1404.0,1248.1 L1406.0,1248.9 L1408.0,1249.7 L1410.0,1250.4 L1412.0,1251.2 L1414.0,1251.9 L1416.0,1252.7 L1418.0,1253.4 L1420.0,1254.2 L1422.0,1254.9 L1424.0,1255.6 L1426.0,1256.4 L1428.0,1257.1 L1430.0,1257.9 L1432.0,1258.6 L1434.0,1259.3 L1436.0,1260.1 L1438.0,1260.8 L1440.0,1261.5 L1442.0,1262.2 L1444.0,1263.0 L1446.0,1263.7 L1448.0,1264.4 L1450.0,1265.1 L1452.0,1265.8 L1454.0,1266.5 L1456.0,1267.3 L1458.0,1268.0 L1460.0,1268.7 L1462.0,1269.4 L1464.0,1270.1 L1466.0,1270.8 L1468.0,1271.5 L1470.0,1272.2 L1472.0,1272.9 L1474.0,1273.6 L1476.0,1274.3 L1478.0,1274.9 L1480.0,1275.6 L1482.0,1276.3 L1484.0,1277.0 L1486.0,1277.7 L1488.0,1278.4 L1490.0,1279.0 L1492.0,1279.7 L1494.0,1280.4 L1496.0,1281.1 L1498.0,1281.7 L1500.0,1282.4 L1502.0,1283.1 L1504.0,1283.7 L1506.0,1284.4 L1508.0,1285.0 L1510.0,1285.7 L1512.0,1286.3 L1514.0,1287.0 L1516.0,1287.6 L1518.0,1288.3 L1520.0,1288.9 L1522.0,1289.6 L1524.0,1290.2 L1526.0,1290.9 L1528.0,1291.5 L1530.0,1292.1 L1532.0,1292.8 L1534.0,1293.4 L1536.0,1294.0 L1538.0,1294.7 L1540.0,1295.3 L1542.0,1295.9 L1544.0,1296.5 L1546.0,1297.2 L1548.0,1297.8 L1550.0,1298.4 L1552.0,1299.0 L1554.0,1299.6 L1556.0,1300.2 L1558.0,1300.8 L1560.0,1301.4 L1562.0,1302.0 L1564.0,1302.6 L1566.0,1303.2 L1568.0,1303.8 L1570.0,1304.4 L1572.0,1305.0 L1574.0,1305.6 L1576.0,1306.2 L1578.0,1306.8 L1580.0,1307.4 L1582.0,1308.0 L1584.0,1308.5 L1586.0,1309.1 L1588.0,1309.7 L1590.0,1310.3 L1592.0,1310.8 L1594.0,1311.4 L1596.0,1312.0 L1598.0,1312.5 L1600.0,1313.1 L1602.0,1313.7 L1604.0,1314.2 L1606.0,1314.8 L1608.0,1315.3 L1610.0,1315.9 L1612.0,1316.4 L1614.0,1317.0 L1616.0,1317.5 L1618.0,1318.1 L1620.0,1318.6 L1622.0,1319.2 L1624.0,1319.7 L1626.0,1320.2 L1628.0,1320.8 L1630.0,1321.3 L1632.0,1321.8 L1634.0,1322.4 L1636.0,1322.9 L1638.0,1323.4 L1640.0,1323.9 L1642.0,1324.4 L1644.0,1325.0 L1646.0,1325.5 L1648.0,1326.0 L1650.0,1326.5 L1652.0,1327.0 L1654.0,1327.5 L1656.0,1328.0 L1658.0,1328.5 L1660.0,1329.0 L1662.0,1329.5 L1664.0,1330.0 L1666.0,1330.5 L1668.0,1331.0 L1670.0,1331.5 L1672.0,1332.0 L1674.0,1332.5 L1676.0,1332.9 L1678.0,1333.4 L1680.0,1333.9 L1682.0,1334.4 L1684.0,1334.8 L1686.0,1335.3 L1688.0,1335.8 L1690.0,1336.3 L1692.0,1336.7 L1694.0,1337.2 L1696.0,1337.6 L1698.0,1338.1 L1700.0,1338.6 L1702.0,1339.0 L1704.0,1339.5 L1706.0,1339.9 L1708.0,1340.4 L1710.0,1340.8 L1712.0,1341.3 L1714.0,1341.7 L1716.0,1342.1 L1718.0,1342.6 L1720.0,1343.0 L1722.0,1343.4 L1724.0,1343.9 L1726.0,1344.3 L1728.0,1344.7 L1730.0,1345.1 L1732.0,1345.6 L1734.0,1346.0 L1736.0,1346.4 L1738.0,1346.8 L1740.0,1347.2 L1742.0,1347.6 L1744.0,1348.1 L1746.0,1348.5 L1748.0,1348.9 L1750.0,1349.3 L1752.0,1349.7 L1754.0,1350.1 L1756.0,1350.5 L1758.0,1350.9 L1760.0,1351.2" stroke="#bccb5c" stroke-width="3.0" fill="none" stroke-linecap="butt" stroke-linejoin="round"/><path d="M190.0,305.7 L192.0,305.3 L194.0,305.3 L196.0,305.6 L198.0,306.1 L200.0,307.0 L202.0,308.1 L204.0,309.4 L206.0,310.9 L208.0,312.6 L210.0,314.5 L212.0,316.5 L214.0,318.6 L216.0,320.8 L218.0,323.0 L220.0,325.3 L222.0,327.7 L224.0,330.1 L226.0,332.5 L228.0,334.9 L230.0,337.3 L232.0,339.7 L234.0,342.1 L236.0,344.4 L238.0,346.8 L240.0,349.1 L242.0,351.4 L244.0,353.7 L246.0,355.9 L248.0,358.2 L250.0,360.4 L252.0,362.7 L254.0,364.9 L256.0,367.1 L258.0,369.3 L260.0,371.5 L262.0,373.7 L264.0,375.9 L266.0,378.1 L268.0,380.2 L270.0,382.4 L272.0,384.6 L274.0,386.8 L276.0,389.0 L278.0,391.2 L280.0,393.4 L282.0,395.6 L284.0,397.8 L286.0,400.1 L288.0,402.3 L290.0,404.5 L292.0,406.7 L294.0,408.9 L296.0,411.2 L298.0,413.4 L300.0,415.6 L302.0,417.8 L304.0,420.1 L306.0,422.3 L308.0,424.5 L310.0,426.7 L312.0,428.9 L314.0,431.1 L316.0,433.3 L318.0,435.5 L320.0,437.6 L322.0,439.8 L324.0,442.0 L326.0,444.1 L328.0,446.3 L330.0,448.4 L332.0,450.6 L334.0,452.7 L336.0,454.8 L338.0,456.9 L340.0,459.1 L342.0,461.2 L344.0,463.3 L346.0,465.4 L348.0,467.5 L350.0,469.6 L352.0,471.7 L354.0,473.8 L356.0,475.9 L358.0,478.0 L360.0,480.1 L362.0,482.1 L364.0,484.2 L366.0,486.3 L368.0,488.4 L370.0,490.4 L372.0,492.5 L374.0,494.6 L376.0,496.6 L378.0,498.7 L380.0,500.7 L382.0,502.8 L384.0,504.8 L386.0,506.9 L388.0,508.9 L390.0,510.9 L392.0,513.0 L394.0,515.0 L396.0,517.0 L398.0,519.0 L400.0,521.0 L402.0,523.1 L404.0,525.1 L406.0,527.1 L408.0,529.1 L410.0,531.1 L412.0,533.1 L414.0,535.1 L416.0,537.1 L418.0,539.1 L420.0,541.0 L422.0,543.0 L424.0,545.0 L426.0,547.0 L428.0,549.0 L430.0,550.9 L432.0,552.9 L434.0,554.9 L436.0,556.8 L438.0,558.8 L440.0,560.7 L442.0,562.7 L444.0,564.6 L446.0,566.6 L448.0,568.5 L450.0,570.5 L452.0,572.4 L454.0,574.3 L456.0,576.3 L458.0,578.2 L460.0,580.1 L462.0,582.0 L464.0,584.0 L466.0,585.9 L468.0,587.8 L470.0,589.7 L472.0,591.6 L474.0,593.5 L476.0,595.4 L478.0,597.3 L480.0,599.2 L482.0,601.1 L484.0,603.0 L486.0,604.9 L488.0,606.8 L490.0,608.6 L492.0,610.5 L494.0,612.4 L496.0,614.3 L498.0,616.1 L500.0,618.0 L502.0,619.9 L504.0,621.7 L506.0,623.6 L508.0,625.4 L510.0,627.3 L512.0,629.1 L514.0,631.0 L516.0,632.8 L518.0,634.7 L520.0,636.5 L522.0,638.3 L524.0,640.2 L526.0,642.0 L528.0,643.8 L530.0,645.7 L532.0,647.5 L534.0,649.3 L536.0,651.1 L538.0,652.9 L540.0,654.8 L542.0,656.6 L544.0,658.4 L546.0,660.2 L548.0,662.0 L550.0,663.8 L552.0,665.6 L554.0,667.4 L556.0,669.2 L558.0,671.0 L560.0,672.7 L562.0,674.5 L564.0,676.3 L566.0,678.1 L568.0,679.9 L570.0,681.6 L572.0,683.4 L574.0,685.2 L576.0,686.9 L578.0,688.7 L580.0,690.5 L582.0,692.2 L584.0,694.0 L586.0,695.7 L588.0,697.5 L590.0,699.2 L592.0,701.0 L594.0,702.7 L596.0,704.4 L598.0,706.2 L600.0,707.9 L602.0,709.6 L604.0,711.4 L606.0,713.1 L608.0,714.8 L610.0,716.5 L612.0,718.3 L614.0,720.0 L616.0,721.7 L618.0,723.4 L620.0,725.1 L622.0,726.8 L624.0,728.5 L626.0,730.2 L628.0,731.9 L630.0,733.6 L632.0,735.3 L634.0,737.0 L636.0,738.6 L638.0,740.3 L640.0,742.0 L642.0,743.7 L644.0,745.3 L646.0,747.0 L648.0,748.7 L650.0,750.3 L652.0,752.0 L654.0,753.7 L656.0,755.3 L658.0,757.0 L660.0,758.6 L662.0,760.3 L664.0,761.9 L666.0,763.5 L668.0,765.2 L670.0,766.8 L672.0,768.4 L674.0,770.1 L676.0,771.7 L678.0,773.3 L680.0,774.9 L682.0,776.5 L684.0,778.2 L686.0,779.8 L688.0,781.4 L690.0,783.0 L692.0,784.6 L694.0,786.2 L696.0,787.8 L698.0,789.4 L700.0,791.0 L702.0,792.5 L704.0,794.1 L706.0,795.7 L708.0,797.3 L710.0,798.9 L712.0,800.4 L714.0,802.0 L716.0,803.6 L718.0,805.1 L720.0,806.7 L722.0,808.2 L724.0,809.8 L726.0,811.3 L728.0,812.9 L730.0,814.4 L732.0,816.0 L734.0,817.5 L736.0,819.0 L738.0,820.6 L740.0,822.1 L742.0,823.6 L744.0,825.1 L746.0,826.7 L748.0,828.2 L750.0,829.7 L752.0,831.2 L754.0,832.7 L756.0,834.2 L758.0,835.7 L760.0,837.2 L762.0,838.7 L764.0,840.2 L766.0,841.7 L768.0,843.2 L770.0,844.6 L772.0,846.1 L774.0,847.6 L776.0,849.1 L778.0,850.5 L780.0,852.0 L782.0,853.5 L784.0,854.9 L786.0,856.4 L788.0,857.8 L790.0,859.3 L792.0,860.7 L794.0,862.2 L796.0,863.6 L798.0,865.0 L800.0,866.5 L802.0,867.9 L804.0,869.3 L806.0,870.7 L808.0,872.1 L810.0,873.6 L812.0,875.0 L814.0,876.4 L816.0,877.8 L818.0,879.2 L820.0,880.6 L822.0,882.0 L824.0,883.4 L826.0,884.8 L828.0,886.1 L830.0,887.5 L832.0,888.9 L834.0,890.3 L836.0,891.7 L838.0,893.0 L840.0,894.4 L842.0,895.8 L844.0,897.1 L846.0,898.5 L848.0,899.8 L850.0,901.2 L852.0,902.5 L854.0,903.9 L856.0,905.2 L858.0,906.5 L860.0,907.9 L862.0,909.2 L864.0,910.5 L866.0,911.9 L868.0,913.2 L870.0,914.5 L872.0,915.8 L874.0,917.2 L876.0,918.5 L878.0,919.8 L880.0,921.1 L882.0,922.4 L884.0,923.7 L886.0,925.0 L888.0,926.3 L890.0,927.6 L892.0,928.9 L894.0,930.2 L896.0,931.5 L898.0,932.8 L900.0,934.1 L902.0,935.4 L904.0,936.6 L906.0,937.9 L908.0,939.2 L910.0,940.5 L912.0,941.7 L914.0,943.0 L916.0,944.3 L918.0,945.6 L920.0,946.8 L922.0,948.1 L924.0,949.4 L926.0,950.6 L928.0,951.9 L930.0,953.1 L932.0,954.4 L934.0,955.6 L936.0,956.9 L938.0,958.2 L940.0,959.4 L942.0,960.7 L944.0,961.9 L946.0,963.1 L948.0,964.4 L950.0,965.6 L952.0,966.9 L954.0,968.1 L956.0,969.4 L958.0,970.6 L960.0,971.8 L962.0,973.1 L964.0,974.3 L966.0,975.5 L968.0,976.8 L970.0,978.0 L972.0,979.2 L974.0,980.4 L976.0,981.7 L978.0,982.9 L980.0,984.1 L982.0,985.4 L984.0,986.6 L986.0,987.8 L988.0,989.0 L990.0,990.2 L992.0,991.5 L994.0,992.7 L996.0,993.9 L998.0,995.1 L1000.0,996.3 L1002.0,997.6 L1004.0,998.8 L1006.0,1000.0 L1008.0,1001.2 L1010.0,1002.4 L1012.0,1003.6 L1014.0,1004.8 L1016.0,1006.0 L1018.0,1007.2 L1020.0,1008.4 L1022.0,1009.7 L1024.0,1010.9 L1026.0,1012.1 L1028.0,1013.3 L1030.0,1014.5 L1032.0,1015.7 L1034.0,1016.9 L1036.0,1018.1 L1038.0,1019.3 L1040.0,1020.5 L1042.0,1021.7 L1044.0,1022.9 L1046.0,1024.0 L1048.0,1025.2 L1050.0,1026.4 L1052.0,1027.6 L1054.0,1028.8 L1056.0,1030.0 L1058.0,1031.2 L1060.0,1032.4 L1062.0,1033.6 L1064.0,1034.7 L1066.0,1035.9 L1068.0,1037.1 L1070.0,1038.3 L1072.0,1039.5 L1074.0,1040.6 L1076.0,1041.8 L1078.0,1043.0 L1080.0,1044.2 L1082.0,1045.3 L1084.0,1046.5 L1086.0,1047.7 L1088.0,1048.8 L1090.0,1050.0 L1092.0,1051.2 L1094.0,1052.3 L1096.0,1053.5 L1098.0,1054.7 L1100.0,1055.8 L1102.0,1057.0 L1104.0,1058.2 L1106.0,1059.3 L1108.0,1060.5 L1110.0,1061.6 L1112.0,1062.8 L1114.0,1063.9 L1116.0,1065.1 L1118.0,1066.2 L1120.0,1067.4 L1122.0,1068.5 L1124.0,1069.7 L1126.0,1070.8 L1128.0,1072.0 L1130.0,1073.1 L1132.0,1074.3 L1134.0,1075.4 L1136.0,1076.5 L1138.0,1077.7 L1140.0,1078.8 L1142.0,1079.9 L1144.0,1081.1 L1146.0,1082.2 L1148.0,1083.3 L1150.0,1084.5 L1152.0,1085.6 L1154.0,1086.7 L1156.0,1087.9 L1158.0,1089.0 L1160.0,1090.1 L1162.0,1091.2 L1164.0,1092.3 L1166.0,1093.5 L1168.0,1094.6 L1170.0,1095.7 L1172.0,1096.8 L1174.0,1097.9 L1176.0,1099.0 L1178.0,1100.1 L1180.0,1101.2 L1182.0,1102.4 L1184.0,1103.5 L1186.0,1104.6 L1188.0,1105.7 L1190.0,1106.8 L1192.0,1107.9 L1194.0,1109.0 L1196.0,1110.1 L1198.0,1111.2 L1200.0,1112.2 L1202.0,1113.3 L1204.0,1114.4 L1206.0,1115.5 L1208.0,1116.6 L1210.0,1117.7 L1212.0,1118.8 L1214.0,1119.9 L1216.0,1120.9 L1218.0,1122.0 L1220.0,1123.1 L1222.0,1124.2 L1224.0,1125.2 L1226.0,1126.3 L1228.0,1127.4 L1230.0,1128.5 L1232.0,1129.5 L1234.0,1130.6 L1236.0,1131.7 L1238.0,1132.7 L1240.0,1133.8 L1242.0,1134.8 L1244.0,1135.9 L1246.0,1137.0 L1248.0,1138.0 L1250.0,1139.1 L1252.0,1140.1 L1254.0,1141.2 L1256.0,1142.2 L1258.0,1143.3 L1260.0,1144.3 L1262.0,1145.3 L1264.0,1146.4 L1266.0,1147.4 L1268.0,1148.5 L1270.0,1149.5 L1272.0,1150.5 L1274.0,1151.6 L1276.0,1152.6 L1278.0,1153.6 L1280.0,1154.7 L1282.0,1155.7 L1284.0,1156.7 L1286.0,1157.7 L1288.0,1158.7 L1290.0,1159.8 L1292.0,1160.8 L1294.0,1161.8 L1296.0,1162.8 L1298.0,1163.8 L1300.0,1164.8 L1302.0,1165.8 L1304.0,1166.8 L1306.0,1167.9 L1308.0,1168.9 L1310.0,1169.9 L1312.0,1170.9 L1314.0,1171.9 L1316.0,1172.8 L1318.0,1173.8 L1320.0,1174.8 L1322.0,1175.8 L1324.0,1176.8 L1326.0,1177.8 L1328.0,1178.8 L1330.0,1179.8 L1332.0,1180.7 L1334.0,1181.7 L1336.0,1182.7 L1338.0,1183.7 L1340.0,1184.6 L1342.0,1185.6 L1344.0,1186.6 L1346.0,1187.5 L1348.0,1188.5 L1350.0,1189.5 L1352.0,1190.4 L1354.0,1191.4 L1356.0,1192.4 L1358.0,1193.3 L1360.0,1194.3 L1362.0,1195.2 L1364.0,1196.2 L1366.0,1197.1 L1368.0,1198.0 L1370.0,1199.0 L1372.0,1199.9 L1374.0,1200.9 L1376.0,1201.8 L1378.0,1202.7 L1380.0,1203.7 L1382.0,1204.6 L1384.0,1205.5 L1386.0,1206.5 L1388.0,1207.4 L1390.0,1208.3 L1392.0,1209.2 L1394.0,1210.1 L1396.0,1211.1 L1398.0,1212.0 L1400.0,1212.9 L1402.0,1213.8 L1404.0,1214.7 L1406.0,1215.6 L1408.0,1216.5 L1410.0,1217.4 L1412.0,1218.3 L1414.0,1219.2 L1416.0,1220.1 L1418.0,1221.0 L1420.0,1221.9 L1422.0,1222.8 L1424.0,1223.7 L1426.0,1224.6 L1428.0,1225.4 L1430.0,1226.3 L1432.0,1227.2 L1434.0,1228.1 L1436.0,1228.9 L1438.0,1229.8 L1440.0,1230.7 L1442.0,1231.5 L1444.0,1232.4 L1446.0,1233.3 L1448.0,1234.1 L1450.0,1235.0 L1452.0,1235.8 L1454.0,1236.7 L1456.0,1237.5 L1458.0,1238.4 L1460.0,1239.2 L1462.0,1240.1 L1464.0,1240.9 L1466.0,1241.8 L1468.0,1242.6 L1470.0,1243.4 L1472.0,1244.3 L1474.0,1245.1 L1476.0,1245.9 L1478.0,1246.8 L1480.0,1247.6 L1482.0,1248.4 L1484.0,1249.2 L1486.0,1250.0 L1488.0,1250.9 L1490.0,1251.7 L1492.0,1252.5 L1494.0,1253.3 L1496.0,1254.1 L1498.0,1254.9 L1500.0,1255.7 L1502.0,1256.5 L1504.0,1257.3 L1506.0,1258.1 L1508.0,1258.9 L1510.0,1259.6 L1512.0,1260.4 L1514.0,1261.2 L1516.0,1262.0 L1518.0,1262.8 L1520.0,1263.5 L1522.0,1264.3 L1524.0,1265.1 L1526.0,1265.9 L1528.0,1266.6 L1530.0,1267.4 L1532.0,1268.2 L1534.0,1268.9 L1536.0,1269.7 L1538.0,1270.4 L1540.0,1271.2 L1542.0,1271.9 L1544.0,1272.7 L1546.0,1273.4 L1548.0,1274.1 L1550.0,1274.9 L1552.0,1275.6 L1554.0,1276.4 L1556.0,1277.1 L1558.0,1277.8 L1560.0,1278.5 L1562.0,1279.3 L1564.0,1280.0 L1566.0,1280.7 L1568.0,1281.4 L1570.0,1282.1 L1572.0,1282.8 L1574.0,1283.5 L1576.0,1284.2 L1578.0,1284.9 L1580.0,1285.6 L1582.0,1286.3 L1584.0,1287.0 L1586.0,1287.7 L1588.0,1288.4 L1590.0,1289.1 L1592.0,1289.8 L1594.0,1290.5 L1596.0,1291.1 L1598.0,1291.8 L1600.0,1292.5 L1602.0,1293.2 L1604.0,1293.8 L1606.0,1294.5 L1608.0,1295.2 L1610.0,1295.8 L1612.0,1296.5 L1614.0,1297.1 L1616.0,1297.8 L1618.0,1298.4 L1620.0,1299.1 L1622.0,1299.7 L1624.0,1300.4 L1626.0,1301.0 L1628.0,1301.6 L1630.0,1302.3 L1632.0,1302.9 L1634.0,1303.5 L1636.0,1304.1 L1638.0,1304.8 L1640.0,1305.4 L1642.0,1306.0 L1644.0,1306.6 L1646.0,1307.2 L1648.0,1307.8 L1650.0,1308.4 L1652.0,1309.0 L1654.0,1309.6 L1656.0,1310.2 L1658.0,1310.8 L1660.0,1311.4 L1662.0,1312.0 L1664.0,1312.6 L1666.0,1313.2 L1668.0,1313.7 L1670.0,1314.3 L1672.0,1314.9 L1674.0,1315.5 L1676.0,1316.0 L1678.0,1316.6 L1680.0,1317.2 L1682.0,1317.7 L1684.0,1318.3 L1686.0,1318.8 L1688.0,1319.4 L1690.0,1319.9 L1692.0,1320.5 L1694.0,1321.0 L1696.0,1321.5 L1698.0,1322.1 L1700.0,1322.6 L1702.0,1323.1 L1704.0,1323.7 L1706.0,1324.2 L1708.0,1324.7 L1710.0,1325.2 L1712.0,1325.7 L1714.0,1326.2 L1716.0,1326.8 L1718.0,1327.3 L1720.0,1327.8 L1722.0,1328.3 L1724.0,1328.8 L1726.0,1329.3 L1728.0,1329.7 L1730.0,1330.2 L1732.0,1330.7 L1734.0,1331.2 L1736.0,1331.7 L1738.0,1332.1 L1740.0,1332.6 L1742.0,1333.1 L1744.0,1333.5 L1746.0,1334.0 L1748.0,1334.5 L1750.0,1334.9 L1752.0,1335.4 L1754.0,1335.8 L1756.0,1336.3 L1758.0,1336.7 L1760.0,1337.2 L1762.0,1337.6 L1764.0,1338.0 L1766.0,1338.5 L1768.0,1338.9 L1770.0,1339.3 L1772.0,1339.7 L1774.0,1340.2 L1776.0,1340.6 L1778.0,1341.0 L1780.0,1341.4 L1782.0,1341.8 L1784.0,1342.2 L1786.0,1342.6 L1788.0,1343.0 L1790.0,1343.4 L1791.0,1343.6" stroke="#e39a33" stroke-width="3.0" fill="none" stroke-linecap="round" stroke-linejoin="round"/>
<line x1="189.50" y1="283.0" x2="189.50" y2="1378.30" stroke="#000" stroke-width="3.5" stroke-linecap="round"/>
<line x1="188.00" y1="1376.80" x2="1929.30" y2="1376.80" stroke="#000" stroke-width="3.8" stroke-linecap="butt"/>
<g stroke="#ff0032" stroke-width="4.8" fill="none" stroke-linecap="round">
<ellipse cx="622.9" cy="820.85" rx="106.5" ry="87.35"/>
<line x1="189.5" y1="810.9" x2="626.7" y2="814.4"/>
<line x1="625.6" y1="814.4" x2="625.2" y2="1378"/>
</g>
</svg>
<div class="t" style="left:1347.34px;top:353.30px;transform-origin:0 0;transform:scaleX(0.8894);font-size:45.4px;color:#bccb5c;font-weight:normal;">MY24</div><div class="t" style="left:1464.37px;top:353.30px;transform-origin:0 0;transform:scaleX(0.7665);font-size:45.4px;color:#bccb5c;font-weight:normal;">SPECTRAL</div><div class="t" style="left:1659.41px;top:353.30px;transform-origin:0 0;transform:scaleX(0.7474);font-size:45.4px;color:#bccb5c;font-weight:normal;">CF</div><div class="t" style="left:1716.11px;top:353.30px;transform-origin:0 0;transform:scaleX(0.9457);font-size:45.4px;color:#bccb5c;font-weight:normal;">29</div><div class="t" style="left:1347.34px;top:406.30px;transform-origin:0 0;transform:scaleX(0.8894);font-size:45.4px;color:#e39a33;font-weight:normal;">MY24</div><div class="t" style="left:1464.37px;top:406.30px;transform-origin:0 0;transform:scaleX(0.7665);font-size:45.4px;color:#e39a33;font-weight:normal;">SPECTRAL</div><div class="t" style="left:1659.41px;top:406.30px;transform-origin:0 0;transform:scaleX(0.7474);font-size:45.4px;color:#e39a33;font-weight:normal;">CF</div><div class="t" style="left:1716.06px;top:406.30px;transform-origin:0 0;transform:scaleX(0.8109);font-size:45.4px;color:#e39a33;font-weight:normal;">MULLET</div><div class="t" style="left:1347.65px;top:456.80px;transform-origin:0 0;transform:scaleX(0.8866);font-size:45.4px;color:#bababa;font-weight:normal;">MY21</div><div class="t" style="left:1464.37px;top:456.80px;transform-origin:0 0;transform:scaleX(0.7665);font-size:45.4px;color:#bababa;font-weight:normal;">SPECTRAL</div><div class="t" style="left:1659.41px;top:456.80px;transform-origin:0 0;transform:scaleX(0.7474);font-size:45.4px;color:#bababa;font-weight:normal;">CF</div><div class="t" style="left:1715.60px;top:456.80px;transform-origin:0 0;transform:scaleX(0.9522);font-size:45.4px;color:#bababa;font-weight:normal;">29</div>
</body></html>
